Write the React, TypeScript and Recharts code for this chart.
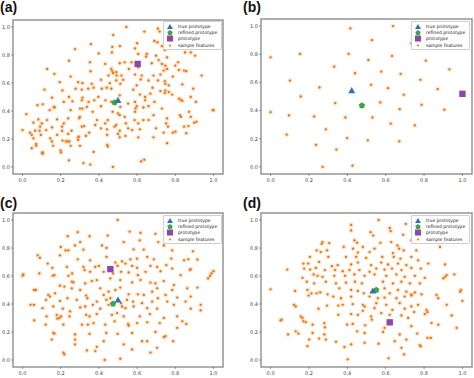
import { ScatterChart, Scatter, XAxis, YAxis, ReferenceArea } from 'recharts'

// sample features (normalised 0..1)
const samplesA: [number, number][] = [
  [0.544, 1.0], [0.709, 0.988], [0.718, 0.967], [0.638, 0.967], [0.475, 0.943], [0.69, 0.9], [0.707, 0.89],
  [0.358, 0.877], [0.47, 0.858], [0.51, 0.863], [0.275, 0.842], [0.589, 0.847], [0.6, 0.884], [0.73, 0.863],
  [0.745, 0.835], [0.775, 0.854], [0.851, 0.818], [0.881, 0.818], [0.904, 0.795], [0.468, 0.818], [0.399, 0.811],
  [0.651, 0.807], [0.606, 0.807], [0.647, 0.788], [0.699, 0.795], [0.757, 0.783], [0.713, 0.764], [0.571, 0.748],
  [0.243, 0.759], [0.353, 0.748], [0.509, 0.741], [0.535, 0.748], [0.433, 0.736], [0.677, 0.741], [0.73, 0.736],
  [0.748, 0.724], [0.8, 0.724], [0.815, 0.748], [0.557, 0.7], [0.465, 0.7], [0.606, 0.712], [0.129, 0.7],
  [0.356, 0.684], [0.47, 0.684], [0.474, 0.67], [0.491, 0.677], [0.757, 0.7], [0.739, 0.689], [0.819, 0.693],
  [0.846, 0.689], [0.858, 0.684], [0.167, 0.665], [0.252, 0.646], [0.45, 0.653], [0.493, 0.653], [0.518, 0.653],
  [0.589, 0.66], [0.624, 0.653], [0.686, 0.653], [0.722, 0.66], [0.787, 0.646], [0.938, 0.653], [0.411, 0.623],
  [0.491, 0.618], [0.527, 0.623], [0.619, 0.625], [0.66, 0.618], [0.709, 0.618], [0.745, 0.613], [0.195, 0.606],
  [0.291, 0.606], [0.314, 0.599], [0.362, 0.594], [0.457, 0.599], [0.512, 0.594], [0.598, 0.583], [0.748, 0.594],
  [0.766, 0.583], [0.837, 0.59], [0.209, 0.547], [0.278, 0.559], [0.31, 0.552], [0.344, 0.559], [0.372, 0.566],
  [0.415, 0.559], [0.441, 0.566], [0.465, 0.559], [0.58, 0.552], [0.681, 0.566], [0.722, 0.542], [0.748, 0.547],
  [0.115, 0.552], [0.894, 0.559], [0.154, 0.495], [0.243, 0.5], [0.314, 0.495], [0.397, 0.5], [0.509, 0.512],
  [0.615, 0.517], [0.642, 0.5], [0.67, 0.524], [0.745, 0.528], [0.766, 0.535], [0.784, 0.517], [0.819, 0.488],
  [0.828, 0.481], [0.837, 0.472], [0.881, 0.5], [0.908, 0.465], [0.078, 0.441], [0.106, 0.448], [0.163, 0.429],
  [0.168, 0.425], [0.216, 0.465], [0.261, 0.469], [0.31, 0.476], [0.346, 0.465], [0.376, 0.476], [0.411, 0.434],
  [0.434, 0.476], [0.465, 0.465], [0.512, 0.429], [0.553, 0.453], [0.589, 0.465], [0.642, 0.476], [0.66, 0.434],
  [0.691, 0.465], [0.598, 0.434], [0.592, 0.417], [0.633, 0.425], [0.73, 0.417], [0.872, 0.394], [0.996, 0.406],
  [1.0, 0.406], [0.02, 0.377], [0.142, 0.406], [0.252, 0.406], [0.301, 0.417], [0.314, 0.417], [0.337, 0.429],
  [0.367, 0.394], [0.472, 0.394], [0.5, 0.382], [0.509, 0.37], [0.535, 0.358], [0.589, 0.394], [0.686, 0.37],
  [0.824, 0.37], [0.83, 0.358], [0.881, 0.358], [0.083, 0.34], [0.128, 0.335], [0.181, 0.34], [0.239, 0.347],
  [0.296, 0.347], [0.3, 0.358], [0.39, 0.335], [0.447, 0.335], [0.587, 0.335], [0.633, 0.335], [0.66, 0.335],
  [0.757, 0.347], [0.899, 0.316], [0.911, 0.323], [0.057, 0.316], [0.101, 0.311], [0.216, 0.311], [0.381, 0.3],
  [0.433, 0.311], [0.491, 0.3], [0.541, 0.311], [0.606, 0.311], [0.752, 0.311], [0.762, 0.288], [0.846, 0.288],
  [0.869, 0.292], [0.092, 0.288], [0.154, 0.283], [0.207, 0.288], [0.31, 0.288], [0.323, 0.292], [0.411, 0.276],
  [0.443, 0.269], [0.482, 0.288], [0.553, 0.276], [0.615, 0.269], [0.699, 0.276], [0.0, 0.264], [0.066, 0.259],
  [0.039, 0.245], [0.089, 0.259], [0.207, 0.257], [0.257, 0.259], [0.349, 0.245], [0.509, 0.259], [0.574, 0.264],
  [0.739, 0.245], [0.787, 0.245], [0.801, 0.252], [0.858, 0.241], [0.048, 0.229], [0.096, 0.229], [0.181, 0.229],
  [0.239, 0.236], [0.296, 0.217], [0.332, 0.222], [0.443, 0.229], [0.5, 0.236], [0.539, 0.222], [0.686, 0.212],
  [0.057, 0.205], [0.145, 0.205], [0.291, 0.212], [0.509, 0.212], [0.606, 0.212], [0.209, 0.189], [0.227, 0.182],
  [0.236, 0.182], [0.245, 0.182], [0.291, 0.193], [0.154, 0.182], [0.16, 0.151], [0.443, 0.158], [0.447, 0.146],
  [0.071, 0.165], [0.071, 0.151], [0.252, 0.151], [0.301, 0.151], [0.757, 0.17], [0.048, 0.134], [0.199, 0.118],
  [0.202, 0.104], [0.103, 0.099], [0.106, 0.094], [0.105, 0.104], [0.372, 0.108], [0.243, 0.047], [0.319, 0.028],
  [0.355, 0.017], [0.473, 0.0], [0.621, 0.04], [0.638, 0.052], [0.124, 0.264],
]

const samplesB: [number, number][] = [
  [0.638, 1.0], [0.416, 0.983], [0.528, 0.9], [0.734, 0.877], [0.0, 0.778], [0.154, 0.802], [0.407, 0.802],
  [0.51, 0.759], [0.633, 0.788], [0.809, 0.755], [0.332, 0.712], [0.44, 0.665], [0.577, 0.677], [0.678, 0.66],
  [0.932, 0.693], [0.101, 0.613], [0.781, 0.618], [0.255, 0.564], [0.524, 0.583], [0.612, 0.559], [0.871, 0.552],
  [0.157, 0.5], [0.694, 0.512], [0.337, 0.453], [0.572, 0.458], [0.673, 0.41], [0.787, 0.441], [0.906, 0.406],
  [0.0, 0.389], [0.096, 0.366], [0.227, 0.358], [0.39, 0.351], [0.531, 0.351], [0.626, 0.307], [0.752, 0.295],
  [0.288, 0.267], [0.084, 0.229], [0.399, 0.205], [0.507, 0.189], [0.671, 0.182], [0.236, 0.156], [0.343, 0.123],
  [0.271, 0.0], [0.427, 0.009],
]

const samplesC: [number, number][] = [
  [0.498, 1.0], [0.289, 0.913], [0.237, 0.884], [0.351, 0.884], [0.446, 0.889], [0.561, 0.917], [0.618, 0.908],
  [0.696, 0.901], [0.2, 0.807], [0.225, 0.783], [0.24, 0.783], [0.275, 0.818], [0.302, 0.842], [0.319, 0.788],
  [0.416, 0.818], [0.44, 0.8], [0.53, 0.842], [0.582, 0.79], [0.635, 0.788], [0.614, 0.854], [0.711, 0.842],
  [0.74, 0.818], [0.784, 0.783], [0.893, 0.776], [0.079, 0.748], [0.091, 0.729], [0.196, 0.748], [0.289, 0.719],
  [0.354, 0.712], [0.44, 0.736], [0.486, 0.696], [0.521, 0.705], [0.565, 0.719], [0.6, 0.724], [0.653, 0.736],
  [0.688, 0.719], [0.779, 0.724], [0.846, 0.712], [0.868, 0.719], [0.916, 0.717], [0.132, 0.689], [0.232, 0.665],
  [0.319, 0.665], [0.381, 0.665], [0.4, 0.672], [0.498, 0.672], [0.539, 0.689], [0.574, 0.672], [0.6, 0.658],
  [0.67, 0.672], [0.705, 0.665], [0.753, 0.677], [0.784, 0.653], [0.156, 0.658], [0.088, 0.618], [0.158, 0.601],
  [0.26, 0.618], [0.325, 0.642], [0.354, 0.63], [0.425, 0.63], [0.474, 0.618], [0.516, 0.63], [0.556, 0.625],
  [0.604, 0.606], [0.644, 0.63], [0.723, 0.634], [0.828, 0.606], [0.877, 0.642], [0.88, 0.649], [0.0, 0.601],
  [0.004, 0.611], [0.167, 0.606], [0.24, 0.601], [0.972, 0.583], [0.982, 0.601], [0.989, 0.618], [1.0, 0.634],
  [0.196, 0.531], [0.258, 0.559], [0.267, 0.554], [0.328, 0.547], [0.363, 0.564], [0.389, 0.571], [0.46, 0.583],
  [0.512, 0.571], [0.574, 0.554], [0.618, 0.571], [0.67, 0.552], [0.696, 0.547], [0.74, 0.564], [0.793, 0.535],
  [0.06, 0.5], [0.07, 0.5], [0.135, 0.465], [0.144, 0.453], [0.17, 0.476], [0.219, 0.524], [0.258, 0.512],
  [0.302, 0.5], [0.333, 0.46], [0.407, 0.512], [0.425, 0.465], [0.451, 0.488], [0.486, 0.5], [0.512, 0.517],
  [0.556, 0.469], [0.604, 0.469], [0.635, 0.465], [0.679, 0.488], [0.705, 0.512], [0.749, 0.465], [0.784, 0.5],
  [0.863, 0.512], [0.916, 0.517], [0.123, 0.429], [0.196, 0.422], [0.235, 0.441], [0.284, 0.429], [0.34, 0.441],
  [0.389, 0.417], [0.439, 0.429], [0.46, 0.441], [0.516, 0.406], [0.547, 0.429], [0.579, 0.417], [0.626, 0.406],
  [0.679, 0.417], [0.709, 0.441], [0.758, 0.417], [0.81, 0.446], [0.854, 0.417], [0.881, 0.453], [0.042, 0.394],
  [0.06, 0.394], [0.105, 0.37], [0.161, 0.382], [0.211, 0.366], [0.249, 0.347], [0.302, 0.375], [0.328, 0.382],
  [0.368, 0.394], [0.407, 0.366], [0.451, 0.394], [0.521, 0.382], [0.539, 0.37], [0.582, 0.382], [0.653, 0.37],
  [0.705, 0.366], [0.793, 0.394], [0.881, 0.366], [0.933, 0.394], [0.126, 0.311], [0.179, 0.323], [0.182, 0.295],
  [0.193, 0.3], [0.202, 0.311], [0.246, 0.311], [0.333, 0.323], [0.351, 0.311], [0.389, 0.328], [0.468, 0.323],
  [0.495, 0.335], [0.53, 0.311], [0.614, 0.311], [0.667, 0.328], [0.74, 0.3], [0.81, 0.311], [0.933, 0.354],
  [0.061, 0.283], [0.121, 0.252], [0.214, 0.252], [0.311, 0.252], [0.342, 0.252], [0.372, 0.264], [0.433, 0.252],
  [0.482, 0.276], [0.553, 0.257], [0.556, 0.245], [0.6, 0.264], [0.653, 0.269], [0.719, 0.264], [0.837, 0.276],
  [0.858, 0.257], [0.161, 0.193], [0.167, 0.189], [0.275, 0.182], [0.351, 0.186], [0.439, 0.193], [0.498, 0.186],
  [0.574, 0.193], [0.696, 0.2], [0.749, 0.17], [0.81, 0.229], [0.153, 0.146], [0.275, 0.146], [0.425, 0.134],
  [0.626, 0.134], [0.653, 0.134], [0.74, 0.163], [0.789, 0.134], [0.275, 0.111], [0.53, 0.111], [0.337, 0.068],
  [0.381, 0.064], [0.574, 0.075], [0.67, 0.052], [0.214, 0.052], [0.219, 0.04], [0.389, 0.094], [0.43, 0.0],
  [0.512, 0.009], [0.705, 0.087],
]

const samplesD: [number, number][] = [
  [0.563, 1.0], [0.705, 0.972], [0.42, 0.965], [0.42, 0.925], [0.621, 0.943], [0.626, 0.92], [0.521, 0.913],
  [0.535, 0.889], [0.691, 0.894], [0.734, 0.854], [0.437, 0.854], [0.451, 0.837], [0.271, 0.842], [0.266, 0.83],
  [0.306, 0.835], [0.572, 0.837], [0.629, 0.842], [0.381, 0.807], [0.481, 0.807], [0.542, 0.795], [0.661, 0.818],
  [0.67, 0.795], [0.883, 0.807], [0.24, 0.783], [0.262, 0.771], [0.294, 0.783], [0.43, 0.795], [0.455, 0.767],
  [0.516, 0.771], [0.638, 0.764], [0.694, 0.783], [0.76, 0.783], [0.205, 0.736], [0.301, 0.736], [0.393, 0.736],
  [0.446, 0.736], [0.498, 0.729], [0.582, 0.736], [0.642, 0.736], [0.677, 0.724], [0.734, 0.736], [0.769, 0.712],
  [0.171, 0.689], [0.196, 0.689], [0.253, 0.7], [0.32, 0.67], [0.35, 0.677], [0.42, 0.682], [0.455, 0.696],
  [0.524, 0.677], [0.577, 0.696], [0.612, 0.682], [0.664, 0.689], [0.708, 0.677], [0.822, 0.689], [0.909, 0.682],
  [0.175, 0.653], [0.206, 0.646], [0.236, 0.658], [0.283, 0.642], [0.336, 0.642], [0.376, 0.634], [0.411, 0.642],
  [0.463, 0.642], [0.516, 0.63], [0.551, 0.653], [0.594, 0.646], [0.633, 0.653], [0.682, 0.642], [0.734, 0.658],
  [0.783, 0.653], [0.087, 0.646], [0.224, 0.611], [0.245, 0.601], [0.166, 0.587], [0.271, 0.594], [0.332, 0.601],
  [0.388, 0.601], [0.437, 0.611], [0.49, 0.601], [0.542, 0.611], [0.603, 0.601], [0.656, 0.611], [0.699, 0.594],
  [0.752, 0.601], [0.804, 0.587], [0.9, 0.583], [0.909, 0.594], [0.918, 0.606], [0.958, 0.611], [0.189, 0.559],
  [0.227, 0.547], [0.288, 0.559], [0.341, 0.547], [0.393, 0.552], [0.44, 0.559], [0.476, 0.547], [0.586, 0.559],
  [0.638, 0.547], [0.682, 0.559], [0.726, 0.547], [0.778, 0.547], [0.0, 0.505], [0.128, 0.493], [0.192, 0.5],
  [0.213, 0.476], [0.24, 0.476], [0.259, 0.483], [0.297, 0.469], [0.358, 0.512], [0.42, 0.5], [0.455, 0.493],
  [0.486, 0.476], [0.594, 0.512], [0.621, 0.476], [0.664, 0.5], [0.708, 0.488], [0.734, 0.469], [0.752, 0.483],
  [0.787, 0.469], [0.865, 0.465], [0.993, 0.5], [0.988, 0.488], [0.198, 0.46], [0.327, 0.453], [0.367, 0.441],
  [0.42, 0.453], [0.516, 0.453], [0.559, 0.441], [0.594, 0.446], [0.656, 0.441], [0.699, 0.453], [0.734, 0.46],
  [0.874, 0.441], [0.122, 0.394], [0.131, 0.382], [0.294, 0.389], [0.353, 0.389], [0.376, 0.394], [0.428, 0.399],
  [0.481, 0.394], [0.49, 0.382], [0.551, 0.406], [0.603, 0.394], [0.673, 0.406], [0.734, 0.382], [0.769, 0.394],
  [0.918, 0.394], [1.0, 0.422], [0.25, 0.366], [0.481, 0.351], [0.542, 0.37], [0.635, 0.358], [0.699, 0.366],
  [0.748, 0.342], [0.813, 0.358], [0.818, 0.342], [0.157, 0.311], [0.166, 0.3], [0.353, 0.323], [0.42, 0.328],
  [0.455, 0.323], [0.524, 0.311], [0.577, 0.335], [0.621, 0.323], [0.682, 0.318], [0.717, 0.3], [0.804, 0.328],
  [0.944, 0.318], [0.171, 0.276], [0.184, 0.271], [0.28, 0.264], [0.528, 0.288], [0.839, 0.264], [0.058, 0.288],
  [0.052, 0.283], [0.219, 0.252], [0.283, 0.233], [0.399, 0.252], [0.428, 0.257], [0.493, 0.248], [0.594, 0.229],
  [0.734, 0.241], [0.874, 0.252], [0.97, 0.229], [0.131, 0.205], [0.145, 0.189], [0.219, 0.193], [0.28, 0.182],
  [0.341, 0.13], [0.451, 0.205], [0.49, 0.193], [0.586, 0.2], [0.673, 0.182], [0.764, 0.189], [0.818, 0.158],
  [0.836, 0.158], [0.091, 0.182], [0.201, 0.146], [0.253, 0.153], [0.288, 0.146], [0.385, 0.092], [0.42, 0.111],
  [0.49, 0.123], [0.563, 0.116], [0.647, 0.134], [0.708, 0.146], [0.778, 0.106], [0.783, 0.097], [0.192, 0.099],
  [0.682, 0.087], [0.696, 0.04], [0.615, 0.012], [0.402, 0.005],
]

// prototype markers, one entry per panel (a)..(d)
const truePrototypes: [number, number][] = [[0.5, 0.476], [0.423, 0.542], [0.5, 0.429], [0.533, 0.493]]
const refinedPrototypes: [number, number][] = [[0.482, 0.46], [0.476, 0.436], [0.474, 0.401], [0.551, 0.5]]
const prototypes: [number, number][] = [[0.603, 0.736], [1.0, 0.519], [0.46, 0.649], [0.621, 0.269]]

const panelLabels = ['(a)', '(b)', '(c)', '(d)']
const legendLabels = ['true prototype', 'refined prototype', 'prototype', 'sample features']
const ticks = [0, 0.2, 0.4, 0.6, 0.8, 1.0]

const BLUE = '#3670b3'
const GREEN = '#3aa648'
const PURPLE = '#8e47a8'
const ORANGE = '#e3741a'

const PANELS = [
  { left: 0, top: 0, margin: { top: 20, right: 14, bottom: 0, left: 0 }, yw: 13, xh: 15, legend: { left: 163, top: 21 }, label: { left: 0, top: -1 } },
  { left: 237, top: 0, margin: { top: 19, right: 2, bottom: 0, left: 0 }, yw: 24, xh: 15, legend: { left: 174, top: 21 }, label: { left: 6, top: -1 } },
  { left: 0, top: 189, margin: { top: 24, right: 14, bottom: 0, left: 0 }, yw: 13, xh: 11, legend: { left: 163, top: 26 }, label: { left: 0, top: 6 } },
  { left: 237, top: 189, margin: { top: 24, right: 2, bottom: 0, left: 0 }, yw: 24, xh: 11, legend: { left: 174, top: 26 }, label: { left: 6, top: 6 } },
]

const toPoints = (arr: [number, number][]) => arr.map(([x, y]) => ({ x, y }))

const SampleDot = (p: any) => (
  <g>
    <circle cx={p.cx} cy={p.cy} r={2.4} fill="#ffab5e" fillOpacity={0.35} />
    <circle cx={p.cx} cy={p.cy} r={1.15} fill={ORANGE} />
  </g>
)

const Triangle = (p: any) => {
  const s = 3.5
  return <polygon points={`${p.cx},${p.cy - s} ${p.cx - s},${p.cy + s * 0.75} ${p.cx + s},${p.cy + s * 0.75}`} fill={BLUE} />
}

const pentagonPoints = (cx: number, cy: number, r: number) =>
  [0, 1, 2, 3, 4]
    .map((i) => {
      const a = -Math.PI / 2 + (i * 2 * Math.PI) / 5
      return `${cx + r * Math.cos(a)},${cy + r * Math.sin(a)}`
    })
    .join(' ')

const Pentagon = (p: any) => <polygon points={pentagonPoints(p.cx, p.cy, 3.3)} fill={GREEN} />

const Square = (p: any) => <rect x={p.cx - 3.2} y={p.cy - 3.2} width={6.4} height={6.4} fill={PURPLE} />

function LegendBox() {
  const icons = [
    <polygon key="t" points="4,1 1,6 7,6" fill={BLUE} />,
    <polygon key="p" points={pentagonPoints(4, 3.8, 2.8)} fill={GREEN} />,
    <rect key="s" x={1} y={0.5} width={6} height={6} fill={PURPLE} />,
    <circle key="d" cx={4} cy={3.5} r={1} fill={ORANGE} />,
  ]
  return (
    <div
      style={{
        background: 'rgba(255,255,255,0.85)',
        border: '0.5px solid #cfcfcf',
        borderRadius: 1,
        padding: '1px 2px',
        width: 53,
        fontFamily: 'DejaVu Sans',
        fontSize: 4.5,
        color: '#222',
      }}
    >
      {legendLabels.map((l, i) => (
        <div key={l} style={{ display: 'flex', alignItems: 'center', height: 6.3 }}>
          <svg width={8} height={7} style={{ marginRight: 4, flexShrink: 0 }}>
            {icons[i]}
          </svg>
          <span style={{ whiteSpace: 'nowrap' }}>{l}</span>
        </div>
      ))}
    </div>
  )
}

function Panel({ idx, samples }: { idx: number; samples: [number, number][] }) {
  const cfg = PANELS[idx]
  const tickStyle = { fontSize: 5, fill: '#444', fontFamily: 'DejaVu Sans' }
  return (
    <div style={{ position: 'absolute', left: cfg.left, top: cfg.top, width: 237, height: 189 }}>
      <ScatterChart width={237} height={189} margin={cfg.margin}>
        <XAxis
          type="number"
          dataKey="x"
          domain={[-0.05, 1.05]}
          ticks={ticks}
          tickFormatter={(v: number) => v.toFixed(1)}
          tick={tickStyle}
          tickSize={2}
          tickLine={{ stroke: '#555', strokeWidth: 0.6 }}
          axisLine={false}
          height={cfg.xh}
          allowDataOverflow
        />
        <YAxis
          type="number"
          dataKey="y"
          domain={[-0.05, 1.05]}
          ticks={ticks}
          tickFormatter={(v: number) => v.toFixed(1)}
          tick={tickStyle}
          tickSize={2}
          tickMargin={1}
          tickLine={{ stroke: '#555', strokeWidth: 0.6 }}
          axisLine={false}
          width={cfg.yw}
          allowDataOverflow
        />
        <Scatter data={toPoints(samples)} shape={SampleDot} isAnimationActive={false} />
        <Scatter data={toPoints([prototypes[idx]])} shape={Square} isAnimationActive={false} />
        <Scatter data={toPoints([refinedPrototypes[idx]])} shape={Pentagon} isAnimationActive={false} />
        <Scatter data={toPoints([truePrototypes[idx]])} shape={Triangle} isAnimationActive={false} />
        <ReferenceArea x1={-0.05} x2={1.05} y1={-0.05} y2={1.05} fill="none" stroke="#959595" strokeWidth={1.5} ifOverflow="visible" />
      </ScatterChart>
      <div style={{ position: 'absolute', left: cfg.legend.left, top: cfg.legend.top }}>
        <LegendBox />
      </div>
      <div
        style={{
          position: 'absolute',
          left: cfg.label.left,
          top: cfg.label.top,
          fontFamily: 'Liberation Sans, Arial, sans-serif',
          fontWeight: 'bold',
          fontSize: 14,
          lineHeight: '16px',
          color: '#111',
        }}
      >
        {panelLabels[idx]}
      </div>
    </div>
  )
}

export default function App() {
  const all = [samplesA, samplesB, samplesC, samplesD]
  return (
    <div style={{ position: 'absolute', left: 0, top: 0, width: 474, height: 378, background: '#fff', overflow: 'hidden' }}>
      {all.map((s, i) => (
        <Panel key={i} idx={i} samples={s} />
      ))}
    </div>
  )
}
